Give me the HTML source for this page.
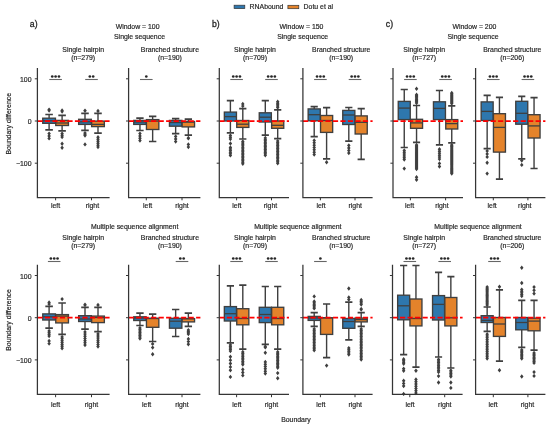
<!DOCTYPE html>
<html><head><meta charset="utf-8"><style>
html,body{margin:0;padding:0;background:#fff;width:550px;height:426px;overflow:hidden}
svg{display:block;will-change:transform}
text{font-family:"Liberation Sans",sans-serif;fill:#262626;stroke:#262626;stroke-width:0.18px}
</style></head><body>
<svg width="550" height="426" viewBox="0 0 550 426">
<rect width="550" height="426" fill="#fff"/>
<path d="M49.10 118.20V114.50M49.10 123.30V129.80" stroke="#3F3F3F" stroke-width="1.4" fill="none"/>
<path d="M45.33 114.50H52.87M45.33 129.80H52.87" stroke="#3F3F3F" stroke-width="1.7" fill="none"/>
<rect x="42.75" y="118.20" width="12.70" height="5.10" fill="#2E77AE" stroke="#3F3F3F" stroke-width="1.35"/>
<path d="M42.75 120.80H55.45" stroke="#3F3F3F" stroke-width="1.3"/>
<path d="M49.10 107.40L50.85 109.60L49.10 111.80L47.35 109.60ZM49.10 108.40L50.85 110.60L49.10 112.80L47.35 110.60ZM49.10 131.40L50.85 133.60L49.10 135.80L47.35 133.60ZM49.10 133.80L50.85 136.00L49.10 138.20L47.35 136.00ZM49.10 136.20L50.85 138.40L49.10 140.60L47.35 138.40Z" fill="#3F3F3F"/>
<path d="M62.10 120.40V115.30M62.10 125.50V130.80" stroke="#3F3F3F" stroke-width="1.4" fill="none"/>
<path d="M58.33 115.30H65.87M58.33 130.80H65.87" stroke="#3F3F3F" stroke-width="1.7" fill="none"/>
<rect x="55.75" y="120.40" width="12.70" height="5.10" fill="#E4832B" stroke="#3F3F3F" stroke-width="1.35"/>
<path d="M55.75 123.00H68.45" stroke="#3F3F3F" stroke-width="1.3"/>
<path d="M62.10 108.20L63.85 110.40L62.10 112.60L60.35 110.40ZM62.10 109.40L63.85 111.60L62.10 113.80L60.35 111.60ZM62.10 131.40L63.85 133.60L62.10 135.80L60.35 133.60ZM62.10 133.15L63.85 135.35L62.10 137.55L60.35 135.35ZM62.10 134.90L63.85 137.10L62.10 139.30L60.35 137.10ZM62.10 141.60L63.85 143.80L62.10 146.00L60.35 143.80ZM62.10 145.60L63.85 147.80L62.10 150.00L60.35 147.80Z" fill="#3F3F3F"/>
<path d="M85.00 119.30V113.40M85.00 124.40V130.30" stroke="#3F3F3F" stroke-width="1.4" fill="none"/>
<path d="M81.23 113.40H88.77M81.23 130.30H88.77" stroke="#3F3F3F" stroke-width="1.7" fill="none"/>
<rect x="78.65" y="119.30" width="12.70" height="5.10" fill="#2E77AE" stroke="#3F3F3F" stroke-width="1.35"/>
<path d="M78.65 121.80H91.35" stroke="#3F3F3F" stroke-width="1.3"/>
<path d="M85.00 108.60L86.75 110.80L85.00 113.00L83.25 110.80ZM85.00 108.40L86.75 110.60L85.00 112.80L83.25 110.60ZM85.00 130.90L86.75 133.10L85.00 135.30L83.25 133.10ZM85.00 132.10L86.75 134.30L85.00 136.50L83.25 134.30ZM85.00 133.30L86.75 135.50L85.00 137.70L83.25 135.50ZM85.00 142.20L86.75 144.40L85.00 146.60L83.25 144.40Z" fill="#3F3F3F"/>
<path d="M98.00 121.10V113.40M98.00 126.60V133.20" stroke="#3F3F3F" stroke-width="1.4" fill="none"/>
<path d="M94.23 113.40H101.77M94.23 133.20H101.77" stroke="#3F3F3F" stroke-width="1.7" fill="none"/>
<rect x="91.65" y="121.10" width="12.70" height="5.50" fill="#E4832B" stroke="#3F3F3F" stroke-width="1.35"/>
<path d="M91.65 124.40H104.35" stroke="#3F3F3F" stroke-width="1.3"/>
<path d="M98.00 108.90L99.75 111.10L98.00 113.30L96.25 111.10ZM98.00 108.70L99.75 110.90L98.00 113.10L96.25 110.90ZM98.00 135.10L99.75 137.30L98.00 139.50L96.25 137.30ZM98.00 137.06L99.75 139.26L98.00 141.46L96.25 139.26ZM98.00 139.02L99.75 141.22L98.00 143.42L96.25 141.22ZM98.00 140.98L99.75 143.18L98.00 145.38L96.25 143.18ZM98.00 142.94L99.75 145.14L98.00 147.34L96.25 145.14ZM98.00 144.90L99.75 147.10L98.00 149.30L96.25 147.10Z" fill="#3F3F3F"/>
<path d="M37.40 121.00H109.60" stroke="#FF0000" stroke-width="1.75" stroke-dasharray="5.2 2.3"/>
<path d="M37.40 68.00V197.50H109.60" stroke="#353535" stroke-width="1.25" fill="none"/>
<path d="M34.80 78.80H37.40M34.80 121.00H37.40M34.80 163.20H37.40M55.60 197.50V200.30M91.50 197.50V200.30" stroke="#353535" stroke-width="1.0" fill="none"/>
<text x="55.60" y="207.60" text-anchor="middle" font-size="6.9" >left</text>
<text x="92.40" y="207.60" text-anchor="middle" font-size="6.9" >right</text>
<text x="31.50" y="81.80" text-anchor="end" font-size="6.9" >100</text>
<text x="31.50" y="124.00" text-anchor="end" font-size="6.9" >0</text>
<text x="31.50" y="166.20" text-anchor="end" font-size="6.9" >−100</text>
<path d="M49.30 79.50H61.90" stroke="#666" stroke-width="1.1"/>
<g fill="#262626"><circle cx="52.25" cy="76.50" r="1.33"/><circle cx="55.60" cy="76.50" r="1.33"/><circle cx="58.95" cy="76.50" r="1.33"/></g>
<path d="M85.20 79.50H97.80" stroke="#666" stroke-width="1.1"/>
<g fill="#262626"><circle cx="89.83" cy="76.50" r="1.33"/><circle cx="93.17" cy="76.50" r="1.33"/></g>
<path d="M139.95 120.40V118.20M139.95 124.40V130.50" stroke="#3F3F3F" stroke-width="1.4" fill="none"/>
<path d="M136.27 118.20H143.63M136.27 130.50H143.63" stroke="#3F3F3F" stroke-width="1.7" fill="none"/>
<rect x="133.75" y="120.40" width="12.40" height="4.00" fill="#2E77AE" stroke="#3F3F3F" stroke-width="1.35"/>
<path d="M133.75 122.00H146.15" stroke="#3F3F3F" stroke-width="1.3"/>
<path d="M139.95 131.40L141.70 133.60L139.95 135.80L138.20 133.60ZM139.95 133.73L141.70 135.93L139.95 138.13L138.20 135.93ZM139.95 136.07L141.70 138.27L139.95 140.47L138.20 138.27ZM139.95 138.40L141.70 140.60L139.95 142.80L138.20 140.60Z" fill="#3F3F3F"/>
<path d="M152.65 119.60V116.30M152.65 129.50V141.50" stroke="#3F3F3F" stroke-width="1.4" fill="none"/>
<path d="M148.97 116.30H156.33M148.97 141.50H156.33" stroke="#3F3F3F" stroke-width="1.7" fill="none"/>
<rect x="146.45" y="119.60" width="12.40" height="9.90" fill="#E4832B" stroke="#3F3F3F" stroke-width="1.35"/>
<path d="M146.45 121.10H158.85" stroke="#3F3F3F" stroke-width="1.3"/>
<path d="M175.65 120.40V118.60M175.65 126.20V133.70" stroke="#3F3F3F" stroke-width="1.4" fill="none"/>
<path d="M171.97 118.60H179.33M171.97 133.70H179.33" stroke="#3F3F3F" stroke-width="1.7" fill="none"/>
<rect x="169.45" y="120.40" width="12.40" height="5.80" fill="#2E77AE" stroke="#3F3F3F" stroke-width="1.35"/>
<path d="M169.45 122.50H181.85" stroke="#3F3F3F" stroke-width="1.3"/>
<path d="M175.65 134.20L177.40 136.40L175.65 138.60L173.90 136.40ZM175.65 136.80L177.40 139.00L175.65 141.20L173.90 139.00ZM175.65 139.40L177.40 141.60L175.65 143.80L173.90 141.60Z" fill="#3F3F3F"/>
<path d="M188.35 121.50V119.20M188.35 126.90V135.20" stroke="#3F3F3F" stroke-width="1.4" fill="none"/>
<path d="M184.67 119.20H192.03M184.67 135.20H192.03" stroke="#3F3F3F" stroke-width="1.7" fill="none"/>
<rect x="182.15" y="121.50" width="12.40" height="5.40" fill="#E4832B" stroke="#3F3F3F" stroke-width="1.35"/>
<path d="M182.15 122.10H194.55" stroke="#3F3F3F" stroke-width="1.3"/>
<path d="M188.35 135.70L190.10 137.90L188.35 140.10L186.60 137.90ZM188.35 136.20L190.10 138.40L188.35 140.60L186.60 138.40ZM188.35 142.30L190.10 144.50L188.35 146.70L186.60 144.50ZM188.35 144.90L190.10 147.10L188.35 149.30L186.60 147.10Z" fill="#3F3F3F"/>
<path d="M128.60 121.00H200.40" stroke="#FF0000" stroke-width="1.75" stroke-dasharray="5.2 2.3"/>
<path d="M128.60 68.00V197.50H200.40" stroke="#353535" stroke-width="1.25" fill="none"/>
<path d="M126.00 78.80H128.60M126.00 121.00H128.60M126.00 163.20H128.60M146.30 197.50V200.30M182.00 197.50V200.30" stroke="#353535" stroke-width="1.0" fill="none"/>
<text x="147.70" y="207.60" text-anchor="middle" font-size="6.9" >left</text>
<text x="182.00" y="207.60" text-anchor="middle" font-size="6.9" >right</text>
<path d="M140.00 79.50H152.60" stroke="#666" stroke-width="1.1"/>
<g fill="#262626"><circle cx="146.30" cy="76.50" r="1.33"/></g>
<path d="M230.40 112.10V100.60M230.40 121.00V132.90" stroke="#3F3F3F" stroke-width="1.4" fill="none"/>
<path d="M226.80 100.60H234.00M226.80 132.90H234.00" stroke="#3F3F3F" stroke-width="1.7" fill="none"/>
<rect x="224.35" y="112.10" width="12.10" height="8.90" fill="#2E77AE" stroke="#3F3F3F" stroke-width="1.35"/>
<path d="M224.35 116.60H236.45" stroke="#3F3F3F" stroke-width="1.3"/>
<path d="M230.40 133.20L232.15 135.40L230.40 137.60L228.65 135.40ZM230.40 135.05L232.15 137.25L230.40 139.45L228.65 137.25ZM230.40 136.90L232.15 139.10L230.40 141.30L228.65 139.10ZM230.40 141.30L232.15 143.50L230.40 145.70L228.65 143.50ZM230.40 145.20L232.15 147.40L230.40 149.60L228.65 147.40ZM230.40 146.80L232.15 149.00L230.40 151.20L228.65 149.00ZM230.40 148.40L232.15 150.60L230.40 152.80L228.65 150.60ZM230.40 150.00L232.15 152.20L230.40 154.40L228.65 152.20ZM230.40 151.60L232.15 153.80L230.40 156.00L228.65 153.80ZM230.40 153.20L232.15 155.40L230.40 157.60L228.65 155.40Z" fill="#3F3F3F"/>
<path d="M242.80 120.50V108.60M242.80 127.40V139.00" stroke="#3F3F3F" stroke-width="1.4" fill="none"/>
<path d="M239.20 108.60H246.40M239.20 139.00H246.40" stroke="#3F3F3F" stroke-width="1.7" fill="none"/>
<rect x="236.75" y="120.50" width="12.10" height="6.90" fill="#E4832B" stroke="#3F3F3F" stroke-width="1.35"/>
<path d="M236.75 124.20H248.85" stroke="#3F3F3F" stroke-width="1.3"/>
<path d="M242.80 101.70L244.55 103.90L242.80 106.10L241.05 103.90ZM242.80 103.90L244.55 106.10L242.80 108.30L241.05 106.10ZM242.80 139.20L244.55 141.40L242.80 143.60L241.05 141.40ZM242.80 140.69L244.55 142.89L242.80 145.09L241.05 142.89ZM242.80 142.17L244.55 144.37L242.80 146.57L241.05 144.37ZM242.80 143.66L244.55 145.86L242.80 148.06L241.05 145.86ZM242.80 145.15L244.55 147.35L242.80 149.55L241.05 147.35ZM242.80 146.63L244.55 148.83L242.80 151.03L241.05 148.83ZM242.80 148.12L244.55 150.32L242.80 152.52L241.05 150.32ZM242.80 149.61L244.55 151.81L242.80 154.01L241.05 151.81ZM242.80 151.09L244.55 153.29L242.80 155.49L241.05 153.29ZM242.80 152.58L244.55 154.78L242.80 156.98L241.05 154.78ZM242.80 154.07L244.55 156.27L242.80 158.47L241.05 156.27ZM242.80 155.55L244.55 157.75L242.80 159.95L241.05 157.75ZM242.80 157.04L244.55 159.24L242.80 161.44L241.05 159.24ZM242.80 158.53L244.55 160.73L242.80 162.93L241.05 160.73ZM242.80 160.01L244.55 162.21L242.80 164.41L241.05 162.21ZM242.80 161.50L244.55 163.70L242.80 165.90L241.05 163.70Z" fill="#3F3F3F"/>
<path d="M265.30 112.80V100.60M265.30 122.00V135.10" stroke="#3F3F3F" stroke-width="1.4" fill="none"/>
<path d="M261.70 100.60H268.90M261.70 135.10H268.90" stroke="#3F3F3F" stroke-width="1.7" fill="none"/>
<rect x="259.25" y="112.80" width="12.10" height="9.20" fill="#2E77AE" stroke="#3F3F3F" stroke-width="1.35"/>
<path d="M259.25 117.20H271.35" stroke="#3F3F3F" stroke-width="1.3"/>
<path d="M265.30 135.70L267.05 137.90L265.30 140.10L263.55 137.90ZM265.30 137.15L267.05 139.35L265.30 141.55L263.55 139.35ZM265.30 138.60L267.05 140.80L265.30 143.00L263.55 140.80ZM265.30 140.05L267.05 142.25L265.30 144.45L263.55 142.25ZM265.30 141.50L267.05 143.70L265.30 145.90L263.55 143.70ZM265.30 142.95L267.05 145.15L265.30 147.35L263.55 145.15ZM265.30 144.40L267.05 146.60L265.30 148.80L263.55 146.60ZM265.30 145.85L267.05 148.05L265.30 150.25L263.55 148.05ZM265.30 147.30L267.05 149.50L265.30 151.70L263.55 149.50ZM265.30 148.75L267.05 150.95L265.30 153.15L263.55 150.95ZM265.30 150.20L267.05 152.40L265.30 154.60L263.55 152.40ZM265.30 151.65L267.05 153.85L265.30 156.05L263.55 153.85ZM265.30 153.10L267.05 155.30L265.30 157.50L263.55 155.30Z" fill="#3F3F3F"/>
<path d="M277.70 121.00V109.90M277.70 128.30V138.70" stroke="#3F3F3F" stroke-width="1.4" fill="none"/>
<path d="M274.10 109.90H281.30M274.10 138.70H281.30" stroke="#3F3F3F" stroke-width="1.7" fill="none"/>
<rect x="271.65" y="121.00" width="12.10" height="7.30" fill="#E4832B" stroke="#3F3F3F" stroke-width="1.35"/>
<path d="M271.65 125.30H283.75" stroke="#3F3F3F" stroke-width="1.3"/>
<path d="M277.70 99.60L279.45 101.80L277.70 104.00L275.95 101.80ZM277.70 101.03L279.45 103.23L277.70 105.43L275.95 103.23ZM277.70 102.45L279.45 104.65L277.70 106.85L275.95 104.65ZM277.70 103.88L279.45 106.08L277.70 108.28L275.95 106.08ZM277.70 105.30L279.45 107.50L277.70 109.70L275.95 107.50ZM277.70 138.90L279.45 141.10L277.70 143.30L275.95 141.10ZM277.70 140.38L279.45 142.58L277.70 144.78L275.95 142.58ZM277.70 141.86L279.45 144.06L277.70 146.26L275.95 144.06ZM277.70 143.34L279.45 145.54L277.70 147.74L275.95 145.54ZM277.70 144.82L279.45 147.02L277.70 149.22L275.95 147.02ZM277.70 146.30L279.45 148.50L277.70 150.70L275.95 148.50ZM277.70 147.78L279.45 149.98L277.70 152.18L275.95 149.98ZM277.70 149.26L279.45 151.46L277.70 153.66L275.95 151.46ZM277.70 150.74L279.45 152.94L277.70 155.14L275.95 152.94ZM277.70 152.22L279.45 154.42L277.70 156.62L275.95 154.42ZM277.70 153.70L279.45 155.90L277.70 158.10L275.95 155.90ZM277.70 155.18L279.45 157.38L277.70 159.58L275.95 157.38ZM277.70 156.66L279.45 158.86L277.70 161.06L275.95 158.86ZM277.70 158.14L279.45 160.34L277.70 162.54L275.95 160.34ZM277.70 159.62L279.45 161.82L277.70 164.02L275.95 161.82ZM277.70 161.10L279.45 163.30L277.70 165.50L275.95 163.30Z" fill="#3F3F3F"/>
<path d="M219.30 121.00H289.00" stroke="#FF0000" stroke-width="1.75" stroke-dasharray="5.2 2.3"/>
<path d="M219.30 68.00V197.50H289.00" stroke="#353535" stroke-width="1.25" fill="none"/>
<path d="M216.70 78.80H219.30M216.70 121.00H219.30M216.70 163.20H219.30M236.60 197.50V200.30M271.50 197.50V200.30" stroke="#353535" stroke-width="1.0" fill="none"/>
<text x="236.90" y="207.60" text-anchor="middle" font-size="6.9" >left</text>
<text x="270.50" y="207.60" text-anchor="middle" font-size="6.9" >right</text>
<path d="M230.30 79.50H242.90" stroke="#666" stroke-width="1.1"/>
<g fill="#262626"><circle cx="233.25" cy="76.50" r="1.33"/><circle cx="236.60" cy="76.50" r="1.33"/><circle cx="239.95" cy="76.50" r="1.33"/></g>
<path d="M265.20 79.50H277.80" stroke="#666" stroke-width="1.1"/>
<g fill="#262626"><circle cx="268.15" cy="76.50" r="1.33"/><circle cx="271.50" cy="76.50" r="1.33"/><circle cx="274.85" cy="76.50" r="1.33"/></g>
<path d="M314.20 108.90V106.70M314.20 120.80V136.60" stroke="#3F3F3F" stroke-width="1.4" fill="none"/>
<path d="M310.60 106.70H317.80M310.60 136.60H317.80" stroke="#3F3F3F" stroke-width="1.7" fill="none"/>
<rect x="308.15" y="108.90" width="12.10" height="11.90" fill="#2E77AE" stroke="#3F3F3F" stroke-width="1.35"/>
<path d="M308.15 114.70H320.25" stroke="#3F3F3F" stroke-width="1.3"/>
<path d="M314.20 138.20L315.95 140.40L314.20 142.60L312.45 140.40ZM314.20 140.57L315.95 142.77L314.20 144.97L312.45 142.77ZM314.20 142.93L315.95 145.13L314.20 147.33L312.45 145.13ZM314.20 145.30L315.95 147.50L314.20 149.70L312.45 147.50ZM314.20 147.67L315.95 149.87L314.20 152.07L312.45 149.87ZM314.20 150.03L315.95 152.23L314.20 154.43L312.45 152.23ZM314.20 152.40L315.95 154.60L314.20 156.80L312.45 154.60Z" fill="#3F3F3F"/>
<path d="M326.60 115.50V107.70M326.60 132.40V158.80" stroke="#3F3F3F" stroke-width="1.4" fill="none"/>
<path d="M323.00 107.70H330.20M323.00 158.80H330.20" stroke="#3F3F3F" stroke-width="1.7" fill="none"/>
<rect x="320.55" y="115.50" width="12.10" height="16.90" fill="#E4832B" stroke="#3F3F3F" stroke-width="1.35"/>
<path d="M320.55 120.50H332.65" stroke="#3F3F3F" stroke-width="1.3"/>
<path d="M326.60 160.10L328.35 162.30L326.60 164.50L324.85 162.30Z" fill="#3F3F3F"/>
<path d="M348.80 110.40V107.50M348.80 124.50V141.20" stroke="#3F3F3F" stroke-width="1.4" fill="none"/>
<path d="M345.20 107.50H352.40M345.20 141.20H352.40" stroke="#3F3F3F" stroke-width="1.7" fill="none"/>
<rect x="342.75" y="110.40" width="12.10" height="14.10" fill="#2E77AE" stroke="#3F3F3F" stroke-width="1.35"/>
<path d="M342.75 115.00H354.85" stroke="#3F3F3F" stroke-width="1.3"/>
<path d="M348.80 143.20L350.55 145.40L348.80 147.60L347.05 145.40ZM348.80 145.77L350.55 147.97L348.80 150.17L347.05 147.97ZM348.80 148.33L350.55 150.53L348.80 152.73L347.05 150.53ZM348.80 150.90L350.55 153.10L348.80 155.30L347.05 153.10Z" fill="#3F3F3F"/>
<path d="M361.20 115.90V108.60M361.20 134.00V159.40" stroke="#3F3F3F" stroke-width="1.4" fill="none"/>
<path d="M357.60 108.60H364.80M357.60 159.40H364.80" stroke="#3F3F3F" stroke-width="1.7" fill="none"/>
<rect x="355.15" y="115.90" width="12.10" height="18.10" fill="#E4832B" stroke="#3F3F3F" stroke-width="1.35"/>
<path d="M355.15 122.30H367.25" stroke="#3F3F3F" stroke-width="1.3"/>
<path d="M302.90 121.00H372.60" stroke="#FF0000" stroke-width="1.75" stroke-dasharray="5.2 2.3"/>
<path d="M302.90 68.00V197.50H372.60" stroke="#353535" stroke-width="1.25" fill="none"/>
<path d="M300.30 78.80H302.90M300.30 121.00H302.90M300.30 163.20H302.90M320.40 197.50V200.30M355.00 197.50V200.30" stroke="#353535" stroke-width="1.0" fill="none"/>
<text x="321.10" y="207.60" text-anchor="middle" font-size="6.9" >left</text>
<text x="355.20" y="207.60" text-anchor="middle" font-size="6.9" >right</text>
<path d="M314.10 79.50H326.70" stroke="#666" stroke-width="1.1"/>
<g fill="#262626"><circle cx="317.05" cy="76.50" r="1.33"/><circle cx="320.40" cy="76.50" r="1.33"/><circle cx="323.75" cy="76.50" r="1.33"/></g>
<path d="M348.70 79.50H361.30" stroke="#666" stroke-width="1.1"/>
<g fill="#262626"><circle cx="351.65" cy="76.50" r="1.33"/><circle cx="355.00" cy="76.50" r="1.33"/><circle cx="358.35" cy="76.50" r="1.33"/></g>
<path d="M404.25 101.40V89.50M404.25 119.60V147.50" stroke="#3F3F3F" stroke-width="1.4" fill="none"/>
<path d="M400.68 89.50H407.82M400.68 147.50H407.82" stroke="#3F3F3F" stroke-width="1.7" fill="none"/>
<rect x="398.25" y="101.40" width="12.00" height="18.20" fill="#2E77AE" stroke="#3F3F3F" stroke-width="1.35"/>
<path d="M398.25 108.10H410.25" stroke="#3F3F3F" stroke-width="1.3"/>
<path d="M404.25 148.30L406.00 150.50L404.25 152.70L402.50 150.50ZM404.25 150.10L406.00 152.30L404.25 154.50L402.50 152.30ZM404.25 151.90L406.00 154.10L404.25 156.30L402.50 154.10ZM404.25 153.70L406.00 155.90L404.25 158.10L402.50 155.90ZM404.25 155.50L406.00 157.70L404.25 159.90L402.50 157.70ZM404.25 157.30L406.00 159.50L404.25 161.70L402.50 159.50ZM404.25 166.40L406.00 168.60L404.25 170.80L402.50 168.60Z" fill="#3F3F3F"/>
<path d="M416.55 119.30V105.50M416.55 128.30V142.40" stroke="#3F3F3F" stroke-width="1.4" fill="none"/>
<path d="M412.98 105.50H420.12M412.98 142.40H420.12" stroke="#3F3F3F" stroke-width="1.7" fill="none"/>
<rect x="410.55" y="119.30" width="12.00" height="9.00" fill="#E4832B" stroke="#3F3F3F" stroke-width="1.35"/>
<path d="M410.55 122.90H422.55" stroke="#3F3F3F" stroke-width="1.3"/>
<path d="M416.55 86.50L418.30 88.70L416.55 90.90L414.80 88.70ZM416.55 92.50L418.30 94.70L416.55 96.90L414.80 94.70ZM416.55 93.55L418.30 95.75L416.55 97.95L414.80 95.75ZM416.55 94.60L418.30 96.80L416.55 99.00L414.80 96.80ZM416.55 95.65L418.30 97.85L416.55 100.05L414.80 97.85ZM416.55 96.70L418.30 98.90L416.55 101.10L414.80 98.90ZM416.55 97.75L418.30 99.95L416.55 102.15L414.80 99.95ZM416.55 98.80L418.30 101.00L416.55 103.20L414.80 101.00ZM416.55 99.85L418.30 102.05L416.55 104.25L414.80 102.05ZM416.55 100.90L418.30 103.10L416.55 105.30L414.80 103.10ZM416.55 142.70L418.30 144.90L416.55 147.10L414.80 144.90ZM416.55 143.70L418.30 145.90L416.55 148.10L414.80 145.90ZM416.55 144.71L418.30 146.91L416.55 149.11L414.80 146.91ZM416.55 145.71L418.30 147.91L416.55 150.11L414.80 147.91ZM416.55 146.72L418.30 148.92L416.55 151.12L414.80 148.92ZM416.55 147.72L418.30 149.92L416.55 152.12L414.80 149.92ZM416.55 148.73L418.30 150.93L416.55 153.12L414.80 150.93ZM416.55 149.73L418.30 151.93L416.55 154.13L414.80 151.93ZM416.55 150.73L418.30 152.93L416.55 155.13L414.80 152.93ZM416.55 151.74L418.30 153.94L416.55 156.14L414.80 153.94ZM416.55 152.74L418.30 154.94L416.55 157.14L414.80 154.94ZM416.55 153.75L418.30 155.95L416.55 158.15L414.80 155.95ZM416.55 154.75L418.30 156.95L416.55 159.15L414.80 156.95ZM416.55 155.75L418.30 157.95L416.55 160.15L414.80 157.95ZM416.55 156.76L418.30 158.96L416.55 161.16L414.80 158.96ZM416.55 157.76L418.30 159.96L416.55 162.16L414.80 159.96ZM416.55 158.77L418.30 160.97L416.55 163.17L414.80 160.97ZM416.55 159.77L418.30 161.97L416.55 164.17L414.80 161.97ZM416.55 160.78L418.30 162.97L416.55 165.17L414.80 162.97ZM416.55 161.78L418.30 163.98L416.55 166.18L414.80 163.98ZM416.55 162.78L418.30 164.98L416.55 167.18L414.80 164.98ZM416.55 163.79L418.30 165.99L416.55 168.19L414.80 165.99ZM416.55 164.79L418.30 166.99L416.55 169.19L414.80 166.99ZM416.55 165.80L418.30 168.00L416.55 170.20L414.80 168.00ZM416.55 166.80L418.30 169.00L416.55 171.20L414.80 169.00ZM416.55 175.00L418.30 177.20L416.55 179.40L414.80 177.20ZM416.55 177.60L418.30 179.80L416.55 182.00L414.80 179.80Z" fill="#3F3F3F"/>
<path d="M439.45 101.80V90.50M439.45 119.60V144.80" stroke="#3F3F3F" stroke-width="1.4" fill="none"/>
<path d="M435.88 90.50H443.02M435.88 144.80H443.02" stroke="#3F3F3F" stroke-width="1.7" fill="none"/>
<rect x="433.45" y="101.80" width="12.00" height="17.80" fill="#2E77AE" stroke="#3F3F3F" stroke-width="1.35"/>
<path d="M433.45 108.40H445.45" stroke="#3F3F3F" stroke-width="1.3"/>
<path d="M439.45 147.00L441.20 149.20L439.45 151.40L437.70 149.20ZM439.45 148.98L441.20 151.18L439.45 153.38L437.70 151.18ZM439.45 150.96L441.20 153.16L439.45 155.36L437.70 153.16ZM439.45 152.94L441.20 155.14L439.45 157.34L437.70 155.14ZM439.45 154.92L441.20 157.12L439.45 159.32L437.70 157.12ZM439.45 156.90L441.20 159.10L439.45 161.30L437.70 159.10ZM439.45 161.20L441.20 163.40L439.45 165.60L437.70 163.40ZM439.45 164.30L441.20 166.50L439.45 168.70L437.70 166.50Z" fill="#3F3F3F"/>
<path d="M451.75 119.60V105.90M451.75 129.00V142.80" stroke="#3F3F3F" stroke-width="1.4" fill="none"/>
<path d="M448.18 105.90H455.32M448.18 142.80H455.32" stroke="#3F3F3F" stroke-width="1.7" fill="none"/>
<rect x="445.75" y="119.60" width="12.00" height="9.40" fill="#E4832B" stroke="#3F3F3F" stroke-width="1.35"/>
<path d="M445.75 123.60H457.75" stroke="#3F3F3F" stroke-width="1.3"/>
<path d="M451.75 90.70L453.50 92.90L451.75 95.10L450.00 92.90ZM451.75 91.67L453.50 93.87L451.75 96.07L450.00 93.87ZM451.75 92.65L453.50 94.85L451.75 97.05L450.00 94.85ZM451.75 93.62L453.50 95.82L451.75 98.02L450.00 95.82ZM451.75 94.59L453.50 96.79L451.75 98.99L450.00 96.79ZM451.75 95.56L453.50 97.76L451.75 99.96L450.00 97.76ZM451.75 96.54L453.50 98.74L451.75 100.94L450.00 98.74ZM451.75 97.51L453.50 99.71L451.75 101.91L450.00 99.71ZM451.75 98.48L453.50 100.68L451.75 102.88L450.00 100.68ZM451.75 99.45L453.50 101.65L451.75 103.85L450.00 101.65ZM451.75 100.43L453.50 102.63L451.75 104.83L450.00 102.63ZM451.75 101.40L453.50 103.60L451.75 105.80L450.00 103.60ZM451.75 142.70L453.50 144.90L451.75 147.10L450.00 144.90ZM451.75 143.69L453.50 145.89L451.75 148.09L450.00 145.89ZM451.75 144.67L453.50 146.87L451.75 149.07L450.00 146.87ZM451.75 145.66L453.50 147.86L451.75 150.06L450.00 147.86ZM451.75 146.64L453.50 148.84L451.75 151.04L450.00 148.84ZM451.75 147.63L453.50 149.83L451.75 152.03L450.00 149.83ZM451.75 148.62L453.50 150.82L451.75 153.02L450.00 150.82ZM451.75 149.60L453.50 151.80L451.75 154.00L450.00 151.80ZM451.75 150.59L453.50 152.79L451.75 154.99L450.00 152.79ZM451.75 151.58L453.50 153.78L451.75 155.98L450.00 153.78ZM451.75 152.56L453.50 154.76L451.75 156.96L450.00 154.76ZM451.75 153.55L453.50 155.75L451.75 157.95L450.00 155.75ZM451.75 154.53L453.50 156.73L451.75 158.93L450.00 156.73ZM451.75 155.52L453.50 157.72L451.75 159.92L450.00 157.72ZM451.75 156.51L453.50 158.71L451.75 160.91L450.00 158.71ZM451.75 157.49L453.50 159.69L451.75 161.89L450.00 159.69ZM451.75 158.48L453.50 160.68L451.75 162.88L450.00 160.68ZM451.75 159.47L453.50 161.67L451.75 163.87L450.00 161.67ZM451.75 160.45L453.50 162.65L451.75 164.85L450.00 162.65ZM451.75 161.44L453.50 163.64L451.75 165.84L450.00 163.64ZM451.75 162.42L453.50 164.62L451.75 166.82L450.00 164.62ZM451.75 163.41L453.50 165.61L451.75 167.81L450.00 165.61ZM451.75 164.40L453.50 166.60L451.75 168.80L450.00 166.60ZM451.75 165.38L453.50 167.58L451.75 169.78L450.00 167.58ZM451.75 166.37L453.50 168.57L451.75 170.77L450.00 168.57ZM451.75 167.36L453.50 169.56L451.75 171.76L450.00 169.56ZM451.75 168.34L453.50 170.54L451.75 172.74L450.00 170.54ZM451.75 169.33L453.50 171.53L451.75 173.73L450.00 171.53ZM451.75 170.31L453.50 172.51L451.75 174.71L450.00 172.51ZM451.75 171.30L453.50 173.50L451.75 175.70L450.00 173.50Z" fill="#3F3F3F"/>
<path d="M393.00 121.00H463.00" stroke="#FF0000" stroke-width="1.75" stroke-dasharray="5.2 2.3"/>
<path d="M393.00 68.00V197.50H463.00" stroke="#353535" stroke-width="1.25" fill="none"/>
<path d="M390.40 78.80H393.00M390.40 121.00H393.00M390.40 163.20H393.00M410.40 197.50V200.30M445.60 197.50V200.30" stroke="#353535" stroke-width="1.0" fill="none"/>
<text x="409.60" y="207.60" text-anchor="middle" font-size="6.9" >left</text>
<text x="441.90" y="207.60" text-anchor="middle" font-size="6.9" >right</text>
<path d="M404.10 79.50H416.70" stroke="#666" stroke-width="1.1"/>
<g fill="#262626"><circle cx="407.05" cy="76.50" r="1.33"/><circle cx="410.40" cy="76.50" r="1.33"/><circle cx="413.75" cy="76.50" r="1.33"/></g>
<path d="M439.30 79.50H451.90" stroke="#666" stroke-width="1.1"/>
<g fill="#262626"><circle cx="442.25" cy="76.50" r="1.33"/><circle cx="445.60" cy="76.50" r="1.33"/><circle cx="448.95" cy="76.50" r="1.33"/></g>
<path d="M487.15 101.90V95.40M487.15 120.50V148.60" stroke="#3F3F3F" stroke-width="1.4" fill="none"/>
<path d="M483.58 95.40H490.72M483.58 148.60H490.72" stroke="#3F3F3F" stroke-width="1.7" fill="none"/>
<rect x="481.15" y="101.90" width="12.00" height="18.60" fill="#2E77AE" stroke="#3F3F3F" stroke-width="1.35"/>
<path d="M481.15 111.40H493.15" stroke="#3F3F3F" stroke-width="1.3"/>
<path d="M487.15 148.70L488.90 150.90L487.15 153.10L485.40 150.90ZM487.15 151.70L488.90 153.90L487.15 156.10L485.40 153.90ZM487.15 154.70L488.90 156.90L487.15 159.10L485.40 156.90ZM487.15 160.50L488.90 162.70L487.15 164.90L485.40 162.70ZM487.15 171.40L488.90 173.60L487.15 175.80L485.40 173.60Z" fill="#3F3F3F"/>
<path d="M499.45 113.70V97.30M499.45 152.10V179.20" stroke="#3F3F3F" stroke-width="1.4" fill="none"/>
<path d="M495.88 97.30H503.02M495.88 179.20H503.02" stroke="#3F3F3F" stroke-width="1.7" fill="none"/>
<rect x="493.45" y="113.70" width="12.00" height="38.40" fill="#E4832B" stroke="#3F3F3F" stroke-width="1.35"/>
<path d="M493.45 127.40H505.45" stroke="#3F3F3F" stroke-width="1.3"/>
<path d="M521.75 101.30V96.30M521.75 124.20V158.80" stroke="#3F3F3F" stroke-width="1.4" fill="none"/>
<path d="M518.18 96.30H525.32M518.18 158.80H525.32" stroke="#3F3F3F" stroke-width="1.7" fill="none"/>
<rect x="515.75" y="101.30" width="12.00" height="22.90" fill="#2E77AE" stroke="#3F3F3F" stroke-width="1.35"/>
<path d="M515.75 113.30H527.75" stroke="#3F3F3F" stroke-width="1.3"/>
<path d="M521.75 158.30L523.50 160.50L521.75 162.70L520.00 160.50ZM521.75 162.70L523.50 164.90L521.75 167.10L520.00 164.90Z" fill="#3F3F3F"/>
<path d="M534.05 114.70V97.70M534.05 138.00V168.50" stroke="#3F3F3F" stroke-width="1.4" fill="none"/>
<path d="M530.48 97.70H537.62M530.48 168.50H537.62" stroke="#3F3F3F" stroke-width="1.7" fill="none"/>
<rect x="528.05" y="114.70" width="12.00" height="23.30" fill="#E4832B" stroke="#3F3F3F" stroke-width="1.35"/>
<path d="M528.05 125.90H540.05" stroke="#3F3F3F" stroke-width="1.3"/>
<path d="M475.60 121.00H545.40" stroke="#FF0000" stroke-width="1.75" stroke-dasharray="5.2 2.3"/>
<path d="M475.60 68.00V197.50H545.40" stroke="#353535" stroke-width="1.25" fill="none"/>
<path d="M473.00 78.80H475.60M473.00 121.00H475.60M473.00 163.20H475.60M493.30 197.50V200.30M527.90 197.50V200.30" stroke="#353535" stroke-width="1.0" fill="none"/>
<text x="492.20" y="207.60" text-anchor="middle" font-size="6.9" >left</text>
<text x="524.80" y="207.60" text-anchor="middle" font-size="6.9" >right</text>
<path d="M487.00 79.50H499.60" stroke="#666" stroke-width="1.1"/>
<g fill="#262626"><circle cx="489.95" cy="76.50" r="1.33"/><circle cx="493.30" cy="76.50" r="1.33"/><circle cx="496.65" cy="76.50" r="1.33"/></g>
<path d="M521.60 79.50H534.20" stroke="#666" stroke-width="1.1"/>
<g fill="#262626"><circle cx="524.55" cy="76.50" r="1.33"/><circle cx="527.90" cy="76.50" r="1.33"/><circle cx="531.25" cy="76.50" r="1.33"/></g>
<text x="83.20" y="51.80" text-anchor="middle" font-size="6.9" >Single hairpin</text>
<text x="83.20" y="60.20" text-anchor="middle" font-size="6.9" >(n=279)</text>
<text x="169.90" y="51.80" text-anchor="middle" font-size="6.9" >Branched structure</text>
<text x="169.90" y="60.20" text-anchor="middle" font-size="6.9" >(n=190)</text>
<text x="255.00" y="51.80" text-anchor="middle" font-size="6.9" >Single hairpin</text>
<text x="255.00" y="60.20" text-anchor="middle" font-size="6.9" >(n=709)</text>
<text x="341.20" y="51.80" text-anchor="middle" font-size="6.9" >Branched structure</text>
<text x="341.20" y="60.20" text-anchor="middle" font-size="6.9" >(n=190)</text>
<text x="424.20" y="51.80" text-anchor="middle" font-size="6.9" >Single hairpin</text>
<text x="424.20" y="60.20" text-anchor="middle" font-size="6.9" >(n=727)</text>
<text x="512.30" y="51.80" text-anchor="middle" font-size="6.9" >Branched structure</text>
<text x="512.30" y="60.20" text-anchor="middle" font-size="6.9" >(n=206)</text>
<text transform="translate(10.6 123.70) rotate(-90)" text-anchor="middle" font-size="6.9">Boundary difference</text>
<path d="M49.10 313.90V306.30M49.10 320.00V328.20" stroke="#3F3F3F" stroke-width="1.4" fill="none"/>
<path d="M45.33 306.30H52.87M45.33 328.20H52.87" stroke="#3F3F3F" stroke-width="1.7" fill="none"/>
<rect x="42.75" y="313.90" width="12.70" height="6.10" fill="#2E77AE" stroke="#3F3F3F" stroke-width="1.35"/>
<path d="M42.75 316.80H55.45" stroke="#3F3F3F" stroke-width="1.3"/>
<path d="M49.10 300.20L50.85 302.40L49.10 304.60L47.35 302.40ZM49.10 301.90L50.85 304.10L49.10 306.30L47.35 304.10ZM49.10 328.70L50.85 330.90L49.10 333.10L47.35 330.90ZM49.10 330.43L50.85 332.63L49.10 334.83L47.35 332.63ZM49.10 332.17L50.85 334.37L49.10 336.57L47.35 334.37ZM49.10 333.90L50.85 336.10L49.10 338.30L47.35 336.10ZM49.10 338.70L50.85 340.90L49.10 343.10L47.35 340.90ZM49.10 341.40L50.85 343.60L49.10 345.80L47.35 343.60Z" fill="#3F3F3F"/>
<path d="M62.10 314.60V303.00M62.10 322.90V334.30" stroke="#3F3F3F" stroke-width="1.4" fill="none"/>
<path d="M58.33 303.00H65.87M58.33 334.30H65.87" stroke="#3F3F3F" stroke-width="1.7" fill="none"/>
<rect x="55.75" y="314.60" width="12.70" height="8.30" fill="#E4832B" stroke="#3F3F3F" stroke-width="1.35"/>
<path d="M55.75 316.10H68.45" stroke="#3F3F3F" stroke-width="1.3"/>
<path d="M62.10 296.90L63.85 299.10L62.10 301.30L60.35 299.10ZM62.10 334.70L63.85 336.90L62.10 339.10L60.35 336.90ZM62.10 336.58L63.85 338.78L62.10 340.98L60.35 338.78ZM62.10 338.47L63.85 340.67L62.10 342.87L60.35 340.67ZM62.10 340.35L63.85 342.55L62.10 344.75L60.35 342.55ZM62.10 342.23L63.85 344.43L62.10 346.63L60.35 344.43ZM62.10 344.12L63.85 346.32L62.10 348.52L60.35 346.32ZM62.10 346.00L63.85 348.20L62.10 350.40L60.35 348.20Z" fill="#3F3F3F"/>
<path d="M85.00 315.70V307.40M85.00 321.50V329.20" stroke="#3F3F3F" stroke-width="1.4" fill="none"/>
<path d="M81.23 307.40H88.77M81.23 329.20H88.77" stroke="#3F3F3F" stroke-width="1.7" fill="none"/>
<rect x="78.65" y="315.70" width="12.70" height="5.80" fill="#2E77AE" stroke="#3F3F3F" stroke-width="1.35"/>
<path d="M78.65 319.00H91.35" stroke="#3F3F3F" stroke-width="1.3"/>
<path d="M85.00 302.40L86.75 304.60L85.00 306.80L83.25 304.60ZM85.00 302.90L86.75 305.10L85.00 307.30L83.25 305.10ZM85.00 329.70L86.75 331.90L85.00 334.10L83.25 331.90ZM85.00 331.88L86.75 334.08L85.00 336.28L83.25 334.08ZM85.00 334.07L86.75 336.27L85.00 338.47L83.25 336.27ZM85.00 336.25L86.75 338.45L85.00 340.65L83.25 338.45ZM85.00 338.43L86.75 340.63L85.00 342.83L83.25 340.63ZM85.00 340.62L86.75 342.82L85.00 345.02L83.25 342.82ZM85.00 342.80L86.75 345.00L85.00 347.20L83.25 345.00Z" fill="#3F3F3F"/>
<path d="M98.00 316.10V307.40M98.00 322.60V331.70" stroke="#3F3F3F" stroke-width="1.4" fill="none"/>
<path d="M94.23 307.40H101.77M94.23 331.70H101.77" stroke="#3F3F3F" stroke-width="1.7" fill="none"/>
<rect x="91.65" y="316.10" width="12.70" height="6.50" fill="#E4832B" stroke="#3F3F3F" stroke-width="1.35"/>
<path d="M91.65 317.50H104.35" stroke="#3F3F3F" stroke-width="1.3"/>
<path d="M98.00 302.70L99.75 304.90L98.00 307.10L96.25 304.90ZM98.00 302.90L99.75 305.10L98.00 307.30L96.25 305.10ZM98.00 331.70L99.75 333.90L98.00 336.10L96.25 333.90ZM98.00 333.80L99.75 336.00L98.00 338.20L96.25 336.00ZM98.00 335.90L99.75 338.10L98.00 340.30L96.25 338.10ZM98.00 338.00L99.75 340.20L98.00 342.40L96.25 340.20ZM98.00 340.10L99.75 342.30L98.00 344.50L96.25 342.30ZM98.00 342.20L99.75 344.40L98.00 346.60L96.25 344.40ZM98.00 344.30L99.75 346.50L98.00 348.70L96.25 346.50Z" fill="#3F3F3F"/>
<path d="M37.40 317.70H109.60" stroke="#FF0000" stroke-width="1.75" stroke-dasharray="5.2 2.3"/>
<path d="M37.40 264.70V394.40H109.60" stroke="#353535" stroke-width="1.25" fill="none"/>
<path d="M34.80 275.50H37.40M34.80 317.70H37.40M34.80 359.90H37.40M55.60 394.40V397.20M91.50 394.40V397.20" stroke="#353535" stroke-width="1.0" fill="none"/>
<text x="55.50" y="407.20" text-anchor="middle" font-size="6.9" >left</text>
<text x="91.50" y="407.20" text-anchor="middle" font-size="6.9" >right</text>
<text x="31.50" y="278.50" text-anchor="end" font-size="6.9" >100</text>
<text x="31.50" y="320.70" text-anchor="end" font-size="6.9" >0</text>
<text x="31.50" y="362.90" text-anchor="end" font-size="6.9" >−100</text>
<path d="M47.90 261.50H60.50" stroke="#666" stroke-width="1.1"/>
<g fill="#262626"><circle cx="50.85" cy="258.50" r="1.33"/><circle cx="54.20" cy="258.50" r="1.33"/><circle cx="57.55" cy="258.50" r="1.33"/></g>
<path d="M139.95 316.80V313.20M139.95 320.50V325.50" stroke="#3F3F3F" stroke-width="1.4" fill="none"/>
<path d="M136.27 313.20H143.63M136.27 325.50H143.63" stroke="#3F3F3F" stroke-width="1.7" fill="none"/>
<rect x="133.75" y="316.80" width="12.40" height="3.70" fill="#2E77AE" stroke="#3F3F3F" stroke-width="1.35"/>
<path d="M133.75 318.00H146.15" stroke="#3F3F3F" stroke-width="1.3"/>
<path d="M139.95 325.70L141.70 327.90L139.95 330.10L138.20 327.90ZM139.95 327.21L141.70 329.41L139.95 331.61L138.20 329.41ZM139.95 328.73L141.70 330.93L139.95 333.13L138.20 330.93ZM139.95 330.24L141.70 332.44L139.95 334.64L138.20 332.44ZM139.95 331.76L141.70 333.96L139.95 336.16L138.20 333.96ZM139.95 333.27L141.70 335.47L139.95 337.67L138.20 335.47ZM139.95 334.79L141.70 336.99L139.95 339.19L138.20 336.99ZM139.95 336.30L141.70 338.50L139.95 340.70L138.20 338.50Z" fill="#3F3F3F"/>
<path d="M152.65 318.30V314.20M152.65 327.30V341.50" stroke="#3F3F3F" stroke-width="1.4" fill="none"/>
<path d="M148.97 314.20H156.33M148.97 341.50H156.33" stroke="#3F3F3F" stroke-width="1.7" fill="none"/>
<rect x="146.45" y="318.30" width="12.40" height="9.00" fill="#E4832B" stroke="#3F3F3F" stroke-width="1.35"/>
<path d="M146.45 318.50H158.85" stroke="#3F3F3F" stroke-width="1.3"/>
<path d="M152.65 341.70L154.40 343.90L152.65 346.10L150.90 343.90ZM152.65 345.40L154.40 347.60L152.65 349.80L150.90 347.60ZM152.65 352.10L154.40 354.30L152.65 356.50L150.90 354.30Z" fill="#3F3F3F"/>
<path d="M175.65 318.30V309.50M175.65 328.20V336.50" stroke="#3F3F3F" stroke-width="1.4" fill="none"/>
<path d="M171.97 309.50H179.33M171.97 336.50H179.33" stroke="#3F3F3F" stroke-width="1.7" fill="none"/>
<rect x="169.45" y="318.30" width="12.40" height="9.90" fill="#2E77AE" stroke="#3F3F3F" stroke-width="1.35"/>
<path d="M169.45 321.20H181.85" stroke="#3F3F3F" stroke-width="1.3"/>
<path d="M188.35 318.60V313.20M188.35 321.90V326.30" stroke="#3F3F3F" stroke-width="1.4" fill="none"/>
<path d="M184.67 313.20H192.03M184.67 326.30H192.03" stroke="#3F3F3F" stroke-width="1.7" fill="none"/>
<rect x="182.15" y="318.60" width="12.40" height="3.30" fill="#E4832B" stroke="#3F3F3F" stroke-width="1.35"/>
<path d="M182.15 318.70H194.55" stroke="#3F3F3F" stroke-width="1.3"/>
<path d="M188.35 327.90L190.10 330.10L188.35 332.30L186.60 330.10ZM188.35 329.23L190.10 331.43L188.35 333.63L186.60 331.43ZM188.35 330.57L190.10 332.77L188.35 334.97L186.60 332.77ZM188.35 331.90L190.10 334.10L188.35 336.30L186.60 334.10ZM188.35 336.70L190.10 338.90L188.35 341.10L186.60 338.90ZM188.35 339.40L190.10 341.60L188.35 343.80L186.60 341.60ZM188.35 342.10L190.10 344.30L188.35 346.50L186.60 344.30Z" fill="#3F3F3F"/>
<path d="M128.60 317.70H200.40" stroke="#FF0000" stroke-width="1.75" stroke-dasharray="5.2 2.3"/>
<path d="M128.60 264.70V394.40H200.40" stroke="#353535" stroke-width="1.25" fill="none"/>
<path d="M126.00 275.50H128.60M126.00 317.70H128.60M126.00 359.90H128.60M146.30 394.40V397.20M182.00 394.40V397.20" stroke="#353535" stroke-width="1.0" fill="none"/>
<text x="146.70" y="407.20" text-anchor="middle" font-size="6.9" >left</text>
<text x="181.90" y="407.20" text-anchor="middle" font-size="6.9" >right</text>
<path d="M175.70 261.50H188.30" stroke="#666" stroke-width="1.1"/>
<g fill="#262626"><circle cx="180.32" cy="258.50" r="1.33"/><circle cx="183.68" cy="258.50" r="1.33"/></g>
<path d="M230.40 306.60V285.80M230.40 321.00V342.80" stroke="#3F3F3F" stroke-width="1.4" fill="none"/>
<path d="M226.80 285.80H234.00M226.80 342.80H234.00" stroke="#3F3F3F" stroke-width="1.7" fill="none"/>
<rect x="224.35" y="306.60" width="12.10" height="14.40" fill="#2E77AE" stroke="#3F3F3F" stroke-width="1.35"/>
<path d="M224.35 313.70H236.45" stroke="#3F3F3F" stroke-width="1.3"/>
<path d="M230.40 342.70L232.15 344.90L230.40 347.10L228.65 344.90ZM230.40 344.25L232.15 346.45L230.40 348.65L228.65 346.45ZM230.40 345.80L232.15 348.00L230.40 350.20L228.65 348.00ZM230.40 347.35L232.15 349.55L230.40 351.75L228.65 349.55ZM230.40 348.90L232.15 351.10L230.40 353.30L228.65 351.10ZM230.40 354.60L232.15 356.80L230.40 359.00L228.65 356.80ZM230.40 357.97L232.15 360.17L230.40 362.37L228.65 360.17ZM230.40 361.35L232.15 363.55L230.40 365.75L228.65 363.55ZM230.40 364.73L232.15 366.93L230.40 369.12L228.65 366.93ZM230.40 368.10L232.15 370.30L230.40 372.50L228.65 370.30ZM230.40 374.70L232.15 376.90L230.40 379.10L228.65 376.90Z" fill="#3F3F3F"/>
<path d="M242.80 308.70V285.10M242.80 324.80V349.20" stroke="#3F3F3F" stroke-width="1.4" fill="none"/>
<path d="M239.20 285.10H246.40M239.20 349.20H246.40" stroke="#3F3F3F" stroke-width="1.7" fill="none"/>
<rect x="236.75" y="308.70" width="12.10" height="16.10" fill="#E4832B" stroke="#3F3F3F" stroke-width="1.35"/>
<path d="M236.75 318.50H248.85" stroke="#3F3F3F" stroke-width="1.3"/>
<path d="M242.80 349.70L244.55 351.90L242.80 354.10L241.05 351.90ZM242.80 351.29L244.55 353.49L242.80 355.69L241.05 353.49ZM242.80 352.88L244.55 355.07L242.80 357.27L241.05 355.07ZM242.80 354.46L244.55 356.66L242.80 358.86L241.05 356.66ZM242.80 356.05L244.55 358.25L242.80 360.45L241.05 358.25ZM242.80 357.64L244.55 359.84L242.80 362.04L241.05 359.84ZM242.80 359.23L244.55 361.43L242.80 363.62L241.05 361.43ZM242.80 360.81L244.55 363.01L242.80 365.21L241.05 363.01ZM242.80 362.40L244.55 364.60L242.80 366.80L241.05 364.60ZM242.80 367.30L244.55 369.50L242.80 371.70L241.05 369.50ZM242.80 370.25L244.55 372.45L242.80 374.65L241.05 372.45ZM242.80 373.20L244.55 375.40L242.80 377.60L241.05 375.40Z" fill="#3F3F3F"/>
<path d="M265.30 307.30V286.50M265.30 322.60V344.30" stroke="#3F3F3F" stroke-width="1.4" fill="none"/>
<path d="M261.70 286.50H268.90M261.70 344.30H268.90" stroke="#3F3F3F" stroke-width="1.7" fill="none"/>
<rect x="259.25" y="307.30" width="12.10" height="15.30" fill="#2E77AE" stroke="#3F3F3F" stroke-width="1.35"/>
<path d="M259.25 314.50H271.35" stroke="#3F3F3F" stroke-width="1.3"/>
<path d="M265.30 344.20L267.05 346.40L265.30 348.60L263.55 346.40ZM265.30 345.20L267.05 347.40L265.30 349.60L263.55 347.40ZM265.30 350.50L267.05 352.70L265.30 354.90L263.55 352.70ZM265.30 359.70L267.05 361.90L265.30 364.10L263.55 361.90ZM265.30 362.02L267.05 364.22L265.30 366.42L263.55 364.22ZM265.30 364.34L267.05 366.54L265.30 368.74L263.55 366.54ZM265.30 366.66L267.05 368.86L265.30 371.06L263.55 368.86ZM265.30 368.98L267.05 371.18L265.30 373.38L263.55 371.18ZM265.30 371.30L267.05 373.50L265.30 375.70L263.55 373.50Z" fill="#3F3F3F"/>
<path d="M277.70 307.30V286.50M277.70 324.80V349.20" stroke="#3F3F3F" stroke-width="1.4" fill="none"/>
<path d="M274.10 286.50H281.30M274.10 349.20H281.30" stroke="#3F3F3F" stroke-width="1.7" fill="none"/>
<rect x="271.65" y="307.30" width="12.10" height="17.50" fill="#E4832B" stroke="#3F3F3F" stroke-width="1.35"/>
<path d="M271.65 318.50H283.75" stroke="#3F3F3F" stroke-width="1.3"/>
<path d="M277.70 349.70L279.45 351.90L277.70 354.10L275.95 351.90ZM277.70 351.14L279.45 353.34L277.70 355.54L275.95 353.34ZM277.70 352.57L279.45 354.77L277.70 356.97L275.95 354.77ZM277.70 354.01L279.45 356.21L277.70 358.41L275.95 356.21ZM277.70 355.45L279.45 357.65L277.70 359.85L275.95 357.65ZM277.70 356.88L279.45 359.08L277.70 361.28L275.95 359.08ZM277.70 358.32L279.45 360.52L277.70 362.72L275.95 360.52ZM277.70 359.75L279.45 361.95L277.70 364.15L275.95 361.95ZM277.70 361.19L279.45 363.39L277.70 365.59L275.95 363.39ZM277.70 362.63L279.45 364.83L277.70 367.03L275.95 364.83ZM277.70 364.06L279.45 366.26L277.70 368.46L275.95 366.26ZM277.70 365.50L279.45 367.70L277.70 369.90L275.95 367.70ZM277.70 370.90L279.45 373.10L277.70 375.30L275.95 373.10ZM277.70 376.00L279.45 378.20L277.70 380.40L275.95 378.20Z" fill="#3F3F3F"/>
<path d="M219.30 317.70H289.00" stroke="#FF0000" stroke-width="1.75" stroke-dasharray="5.2 2.3"/>
<path d="M219.30 264.70V394.40H289.00" stroke="#353535" stroke-width="1.25" fill="none"/>
<path d="M216.70 275.50H219.30M216.70 317.70H219.30M216.70 359.90H219.30M236.60 394.40V397.20M271.50 394.40V397.20" stroke="#353535" stroke-width="1.0" fill="none"/>
<text x="236.90" y="407.20" text-anchor="middle" font-size="6.9" >left</text>
<text x="271.50" y="407.20" text-anchor="middle" font-size="6.9" >right</text>
<path d="M230.30 261.50H242.90" stroke="#666" stroke-width="1.1"/>
<g fill="#262626"><circle cx="233.25" cy="258.50" r="1.33"/><circle cx="236.60" cy="258.50" r="1.33"/><circle cx="239.95" cy="258.50" r="1.33"/></g>
<path d="M265.20 261.50H277.80" stroke="#666" stroke-width="1.1"/>
<g fill="#262626"><circle cx="268.15" cy="258.50" r="1.33"/><circle cx="271.50" cy="258.50" r="1.33"/><circle cx="274.85" cy="258.50" r="1.33"/></g>
<path d="M314.20 316.40V312.70M314.20 320.40V326.30" stroke="#3F3F3F" stroke-width="1.4" fill="none"/>
<path d="M310.60 312.70H317.80M310.60 326.30H317.80" stroke="#3F3F3F" stroke-width="1.7" fill="none"/>
<rect x="308.15" y="316.40" width="12.10" height="4.00" fill="#2E77AE" stroke="#3F3F3F" stroke-width="1.35"/>
<path d="M308.15 318.00H320.25" stroke="#3F3F3F" stroke-width="1.3"/>
<path d="M314.20 294.20L315.95 296.40L314.20 298.60L312.45 296.40ZM314.20 299.20L315.95 301.40L314.20 303.60L312.45 301.40ZM314.20 300.60L315.95 302.80L314.20 305.00L312.45 302.80ZM314.20 302.00L315.95 304.20L314.20 306.40L312.45 304.20ZM314.20 303.40L315.95 305.60L314.20 307.80L312.45 305.60ZM314.20 304.80L315.95 307.00L314.20 309.20L312.45 307.00ZM314.20 306.20L315.95 308.40L314.20 310.60L312.45 308.40ZM314.20 326.70L315.95 328.90L314.20 331.10L312.45 328.90ZM314.20 328.22L315.95 330.42L314.20 332.62L312.45 330.42ZM314.20 329.74L315.95 331.94L314.20 334.14L312.45 331.94ZM314.20 331.26L315.95 333.46L314.20 335.66L312.45 333.46ZM314.20 332.79L315.95 334.99L314.20 337.19L312.45 334.99ZM314.20 334.31L315.95 336.51L314.20 338.71L312.45 336.51ZM314.20 335.83L315.95 338.03L314.20 340.23L312.45 338.03ZM314.20 337.35L315.95 339.55L314.20 341.75L312.45 339.55ZM314.20 338.87L315.95 341.07L314.20 343.27L312.45 341.07ZM314.20 340.39L315.95 342.59L314.20 344.79L312.45 342.59ZM314.20 341.91L315.95 344.11L314.20 346.31L312.45 344.11ZM314.20 343.44L315.95 345.64L314.20 347.84L312.45 345.64ZM314.20 344.96L315.95 347.16L314.20 349.36L312.45 347.16ZM314.20 346.48L315.95 348.68L314.20 350.88L312.45 348.68ZM314.20 348.00L315.95 350.20L314.20 352.40L312.45 350.20Z" fill="#3F3F3F"/>
<path d="M326.60 317.80V304.00M326.60 334.40V357.60" stroke="#3F3F3F" stroke-width="1.4" fill="none"/>
<path d="M323.00 304.00H330.20M323.00 357.60H330.20" stroke="#3F3F3F" stroke-width="1.7" fill="none"/>
<rect x="320.55" y="317.80" width="12.10" height="16.60" fill="#E4832B" stroke="#3F3F3F" stroke-width="1.35"/>
<path d="M320.55 317.80H332.65" stroke="#3F3F3F" stroke-width="1.3"/>
<path d="M326.60 363.40L328.35 365.60L326.60 367.80L324.85 365.60Z" fill="#3F3F3F"/>
<path d="M348.80 318.50V302.10M348.80 328.30V339.80" stroke="#3F3F3F" stroke-width="1.4" fill="none"/>
<path d="M345.20 302.10H352.40M345.20 339.80H352.40" stroke="#3F3F3F" stroke-width="1.7" fill="none"/>
<rect x="342.75" y="318.50" width="12.10" height="9.80" fill="#2E77AE" stroke="#3F3F3F" stroke-width="1.35"/>
<path d="M342.75 321.50H354.85" stroke="#3F3F3F" stroke-width="1.3"/>
<path d="M348.80 286.30L350.55 288.50L348.80 290.70L347.05 288.50ZM348.80 295.20L350.55 297.40L348.80 299.60L347.05 297.40ZM348.80 297.40L350.55 299.60L348.80 301.80L347.05 299.60ZM348.80 345.90L350.55 348.10L348.80 350.30L347.05 348.10ZM348.80 347.52L350.55 349.72L348.80 351.92L347.05 349.72ZM348.80 349.15L350.55 351.35L348.80 353.55L347.05 351.35ZM348.80 350.78L350.55 352.98L348.80 355.18L347.05 352.98ZM348.80 352.40L350.55 354.60L348.80 356.80L347.05 354.60Z" fill="#3F3F3F"/>
<path d="M361.20 318.10V312.70M361.20 321.90V326.30" stroke="#3F3F3F" stroke-width="1.4" fill="none"/>
<path d="M357.60 312.70H364.80M357.60 326.30H364.80" stroke="#3F3F3F" stroke-width="1.7" fill="none"/>
<rect x="355.15" y="318.10" width="12.10" height="3.80" fill="#E4832B" stroke="#3F3F3F" stroke-width="1.35"/>
<path d="M355.15 319.60H367.25" stroke="#3F3F3F" stroke-width="1.3"/>
<path d="M361.20 297.80L362.95 300.00L361.20 302.20L359.45 300.00ZM361.20 299.33L362.95 301.53L361.20 303.73L359.45 301.53ZM361.20 300.87L362.95 303.07L361.20 305.27L359.45 303.07ZM361.20 302.40L362.95 304.60L361.20 306.80L359.45 304.60ZM361.20 306.70L362.95 308.90L361.20 311.10L359.45 308.90ZM361.20 307.40L362.95 309.60L361.20 311.80L359.45 309.60ZM361.20 326.70L362.95 328.90L361.20 331.10L359.45 328.90ZM361.20 328.24L362.95 330.44L361.20 332.63L359.45 330.44ZM361.20 329.77L362.95 331.97L361.20 334.17L359.45 331.97ZM361.20 331.31L362.95 333.50L361.20 335.70L359.45 333.50ZM361.20 332.84L362.95 335.04L361.20 337.24L359.45 335.04ZM361.20 334.38L362.95 336.57L361.20 338.77L359.45 336.57ZM361.20 335.91L362.95 338.11L361.20 340.31L359.45 338.11ZM361.20 337.44L362.95 339.64L361.20 341.84L359.45 339.64ZM361.20 338.98L362.95 341.18L361.20 343.38L359.45 341.18ZM361.20 340.51L362.95 342.71L361.20 344.91L359.45 342.71ZM361.20 342.05L362.95 344.25L361.20 346.45L359.45 344.25ZM361.20 343.59L362.95 345.79L361.20 347.99L359.45 345.79ZM361.20 345.12L362.95 347.32L361.20 349.52L359.45 347.32ZM361.20 346.66L362.95 348.86L361.20 351.06L359.45 348.86ZM361.20 348.19L362.95 350.39L361.20 352.59L359.45 350.39ZM361.20 349.73L362.95 351.93L361.20 354.12L359.45 351.93ZM361.20 351.26L362.95 353.46L361.20 355.66L359.45 353.46ZM361.20 352.80L362.95 355.00L361.20 357.19L359.45 355.00ZM361.20 354.33L362.95 356.53L361.20 358.73L359.45 356.53ZM361.20 355.87L362.95 358.06L361.20 360.26L359.45 358.06ZM361.20 357.40L362.95 359.60L361.20 361.80L359.45 359.60Z" fill="#3F3F3F"/>
<path d="M302.90 317.70H372.60" stroke="#FF0000" stroke-width="1.75" stroke-dasharray="5.2 2.3"/>
<path d="M302.90 264.70V394.40H372.60" stroke="#353535" stroke-width="1.25" fill="none"/>
<path d="M300.30 275.50H302.90M300.30 317.70H302.90M300.30 359.90H302.90M320.40 394.40V397.20M355.00 394.40V397.20" stroke="#353535" stroke-width="1.0" fill="none"/>
<text x="320.80" y="407.20" text-anchor="middle" font-size="6.9" >left</text>
<text x="355.20" y="407.20" text-anchor="middle" font-size="6.9" >right</text>
<path d="M314.10 261.50H326.70" stroke="#666" stroke-width="1.1"/>
<g fill="#262626"><circle cx="320.40" cy="258.50" r="1.33"/></g>
<path d="M403.65 295.20V265.50M403.65 319.80V354.70" stroke="#3F3F3F" stroke-width="1.4" fill="none"/>
<path d="M400.08 265.50H407.22M400.08 354.70H407.22" stroke="#3F3F3F" stroke-width="1.7" fill="none"/>
<rect x="397.65" y="295.20" width="12.00" height="24.60" fill="#2E77AE" stroke="#3F3F3F" stroke-width="1.35"/>
<path d="M397.65 305.80H409.65" stroke="#3F3F3F" stroke-width="1.3"/>
<path d="M403.65 357.00L405.40 359.20L403.65 361.40L401.90 359.20ZM403.65 358.50L405.40 360.70L403.65 362.90L401.90 360.70ZM403.65 360.00L405.40 362.20L403.65 364.40L401.90 362.20ZM403.65 361.50L405.40 363.70L403.65 365.90L401.90 363.70ZM403.65 366.50L405.40 368.70L403.65 370.90L401.90 368.70ZM403.65 368.50L405.40 370.70L403.65 372.90L401.90 370.70ZM403.65 378.60L405.40 380.80L403.65 383.00L401.90 380.80ZM403.65 381.20L405.40 383.40L403.65 385.60L401.90 383.40ZM403.65 383.80L405.40 386.00L403.65 388.20L401.90 386.00ZM403.65 391.70L405.40 393.90L403.65 396.10L401.90 393.90Z" fill="#3F3F3F"/>
<path d="M415.95 299.00V265.50M415.95 325.90V367.10" stroke="#3F3F3F" stroke-width="1.4" fill="none"/>
<path d="M412.38 265.50H419.52M412.38 367.10H419.52" stroke="#3F3F3F" stroke-width="1.7" fill="none"/>
<rect x="409.95" y="299.00" width="12.00" height="26.90" fill="#E4832B" stroke="#3F3F3F" stroke-width="1.35"/>
<path d="M409.95 318.50H421.95" stroke="#3F3F3F" stroke-width="1.3"/>
<path d="M415.95 368.40L417.70 370.60L415.95 372.80L414.20 370.60ZM415.95 368.50L417.70 370.70L415.95 372.90L414.20 370.70ZM415.95 377.30L417.70 379.50L415.95 381.70L414.20 379.50ZM415.95 379.55L417.70 381.75L415.95 383.95L414.20 381.75ZM415.95 381.80L417.70 384.00L415.95 386.20L414.20 384.00ZM415.95 384.05L417.70 386.25L415.95 388.45L414.20 386.25ZM415.95 386.30L417.70 388.50L415.95 390.70L414.20 388.50ZM415.95 388.55L417.70 390.75L415.95 392.95L414.20 390.75ZM415.95 390.80L417.70 393.00L415.95 395.20L414.20 393.00Z" fill="#3F3F3F"/>
<path d="M438.55 295.60V272.40M438.55 320.00V357.00" stroke="#3F3F3F" stroke-width="1.4" fill="none"/>
<path d="M434.98 272.40H442.12M434.98 357.00H442.12" stroke="#3F3F3F" stroke-width="1.7" fill="none"/>
<rect x="432.55" y="295.60" width="12.00" height="24.40" fill="#2E77AE" stroke="#3F3F3F" stroke-width="1.35"/>
<path d="M432.55 304.40H444.55" stroke="#3F3F3F" stroke-width="1.3"/>
<path d="M438.55 357.20L440.30 359.40L438.55 361.60L436.80 359.40ZM438.55 358.77L440.30 360.97L438.55 363.17L436.80 360.97ZM438.55 360.35L440.30 362.55L438.55 364.75L436.80 362.55ZM438.55 361.93L440.30 364.12L438.55 366.32L436.80 364.12ZM438.55 363.50L440.30 365.70L438.55 367.90L436.80 365.70ZM438.55 365.07L440.30 367.27L438.55 369.47L436.80 367.27ZM438.55 366.65L440.30 368.85L438.55 371.05L436.80 368.85ZM438.55 368.23L440.30 370.43L438.55 372.62L436.80 370.43ZM438.55 369.80L440.30 372.00L438.55 374.20L436.80 372.00ZM438.55 373.90L440.30 376.10L438.55 378.30L436.80 376.10ZM438.55 380.30L440.30 382.50L438.55 384.70L436.80 382.50Z" fill="#3F3F3F"/>
<path d="M450.85 297.50V276.70M450.85 325.90V368.00" stroke="#3F3F3F" stroke-width="1.4" fill="none"/>
<path d="M447.28 276.70H454.42M447.28 368.00H454.42" stroke="#3F3F3F" stroke-width="1.7" fill="none"/>
<rect x="444.85" y="297.50" width="12.00" height="28.40" fill="#E4832B" stroke="#3F3F3F" stroke-width="1.35"/>
<path d="M444.85 317.80H456.85" stroke="#3F3F3F" stroke-width="1.3"/>
<path d="M450.85 368.20L452.60 370.40L450.85 372.60L449.10 370.40ZM450.85 369.72L452.60 371.92L450.85 374.12L449.10 371.92ZM450.85 371.25L452.60 373.45L450.85 375.65L449.10 373.45ZM450.85 372.78L452.60 374.98L450.85 377.18L449.10 374.98ZM450.85 374.30L452.60 376.50L450.85 378.70L449.10 376.50ZM450.85 380.30L452.60 382.50L450.85 384.70L449.10 382.50ZM450.85 385.70L452.60 387.90L450.85 390.10L449.10 387.90Z" fill="#3F3F3F"/>
<path d="M392.50 317.70H462.60" stroke="#FF0000" stroke-width="1.75" stroke-dasharray="5.2 2.3"/>
<path d="M392.50 264.70V394.40H462.60" stroke="#353535" stroke-width="1.25" fill="none"/>
<path d="M389.90 275.50H392.50M389.90 317.70H392.50M389.90 359.90H392.50M409.80 394.40V397.20M444.70 394.40V397.20" stroke="#353535" stroke-width="1.0" fill="none"/>
<text x="410.10" y="407.20" text-anchor="middle" font-size="6.9" >left</text>
<text x="444.80" y="407.20" text-anchor="middle" font-size="6.9" >right</text>
<path d="M403.50 261.50H416.10" stroke="#666" stroke-width="1.1"/>
<g fill="#262626"><circle cx="406.45" cy="258.50" r="1.33"/><circle cx="409.80" cy="258.50" r="1.33"/><circle cx="413.15" cy="258.50" r="1.33"/></g>
<path d="M438.40 261.50H451.00" stroke="#666" stroke-width="1.1"/>
<g fill="#262626"><circle cx="441.35" cy="258.50" r="1.33"/><circle cx="444.70" cy="258.50" r="1.33"/><circle cx="448.05" cy="258.50" r="1.33"/></g>
<path d="M487.15 315.70V307.00M487.15 322.50V331.30" stroke="#3F3F3F" stroke-width="1.4" fill="none"/>
<path d="M483.58 307.00H490.72M483.58 331.30H490.72" stroke="#3F3F3F" stroke-width="1.7" fill="none"/>
<rect x="481.15" y="315.70" width="12.00" height="6.80" fill="#2E77AE" stroke="#3F3F3F" stroke-width="1.35"/>
<path d="M481.15 320.40H493.15" stroke="#3F3F3F" stroke-width="1.3"/>
<path d="M487.15 284.90L488.90 287.10L487.15 289.30L485.40 287.10ZM487.15 286.09L488.90 288.29L487.15 290.49L485.40 288.29ZM487.15 287.29L488.90 289.49L487.15 291.69L485.40 289.49ZM487.15 288.48L488.90 290.68L487.15 292.88L485.40 290.68ZM487.15 289.67L488.90 291.87L487.15 294.07L485.40 291.87ZM487.15 290.87L488.90 293.07L487.15 295.27L485.40 293.07ZM487.15 292.06L488.90 294.26L487.15 296.46L485.40 294.26ZM487.15 293.25L488.90 295.45L487.15 297.65L485.40 295.45ZM487.15 294.45L488.90 296.65L487.15 298.85L485.40 296.65ZM487.15 295.64L488.90 297.84L487.15 300.04L485.40 297.84ZM487.15 296.83L488.90 299.03L487.15 301.23L485.40 299.03ZM487.15 298.03L488.90 300.23L487.15 302.43L485.40 300.23ZM487.15 299.22L488.90 301.42L487.15 303.62L485.40 301.42ZM487.15 300.41L488.90 302.61L487.15 304.81L485.40 302.61ZM487.15 301.61L488.90 303.81L487.15 306.01L485.40 303.81ZM487.15 302.80L488.90 305.00L487.15 307.20L485.40 305.00ZM487.15 332.00L488.90 334.20L487.15 336.40L485.40 334.20ZM487.15 333.74L488.90 335.94L487.15 338.14L485.40 335.94ZM487.15 335.47L488.90 337.67L487.15 339.87L485.40 337.67ZM487.15 337.21L488.90 339.41L487.15 341.61L485.40 339.41ZM487.15 338.94L488.90 341.14L487.15 343.34L485.40 341.14ZM487.15 340.68L488.90 342.88L487.15 345.08L485.40 342.88ZM487.15 342.41L488.90 344.61L487.15 346.81L485.40 344.61ZM487.15 344.15L488.90 346.35L487.15 348.55L485.40 346.35ZM487.15 345.89L488.90 348.09L487.15 350.29L485.40 348.09ZM487.15 347.62L488.90 349.82L487.15 352.02L485.40 349.82ZM487.15 349.36L488.90 351.56L487.15 353.76L485.40 351.56ZM487.15 351.09L488.90 353.29L487.15 355.49L485.40 353.29ZM487.15 352.83L488.90 355.03L487.15 357.23L485.40 355.03ZM487.15 354.56L488.90 356.76L487.15 358.96L485.40 356.76ZM487.15 356.30L488.90 358.50L487.15 360.70L485.40 358.50Z" fill="#3F3F3F"/>
<path d="M499.45 317.50V289.90M499.45 336.40V361.10" stroke="#3F3F3F" stroke-width="1.4" fill="none"/>
<path d="M495.88 289.90H503.02M495.88 361.10H503.02" stroke="#3F3F3F" stroke-width="1.7" fill="none"/>
<rect x="493.45" y="317.50" width="12.00" height="18.90" fill="#E4832B" stroke="#3F3F3F" stroke-width="1.35"/>
<path d="M493.45 324.00H505.45" stroke="#3F3F3F" stroke-width="1.3"/>
<path d="M499.45 284.60L501.20 286.80L499.45 289.00L497.70 286.80ZM499.45 368.00L501.20 370.20L499.45 372.40L497.70 370.20Z" fill="#3F3F3F"/>
<path d="M521.75 317.50V300.40M521.75 329.80V347.30" stroke="#3F3F3F" stroke-width="1.4" fill="none"/>
<path d="M518.18 300.40H525.32M518.18 347.30H525.32" stroke="#3F3F3F" stroke-width="1.7" fill="none"/>
<rect x="515.75" y="317.50" width="12.00" height="12.30" fill="#2E77AE" stroke="#3F3F3F" stroke-width="1.35"/>
<path d="M515.75 322.50H527.75" stroke="#3F3F3F" stroke-width="1.3"/>
<path d="M521.75 265.50L523.50 267.70L521.75 269.90L520.00 267.70ZM521.75 280.80L523.50 283.00L521.75 285.20L520.00 283.00ZM521.75 287.40L523.50 289.60L521.75 291.80L520.00 289.60ZM521.75 289.02L523.50 291.22L521.75 293.42L520.00 291.22ZM521.75 290.65L523.50 292.85L521.75 295.05L520.00 292.85ZM521.75 292.28L523.50 294.48L521.75 296.68L520.00 294.48ZM521.75 293.90L523.50 296.10L521.75 298.30L520.00 296.10ZM521.75 347.70L523.50 349.90L521.75 352.10L520.00 349.90ZM521.75 349.13L523.50 351.33L521.75 353.53L520.00 351.33ZM521.75 350.57L523.50 352.77L521.75 354.97L520.00 352.77ZM521.75 352.00L523.50 354.20L521.75 356.40L520.00 354.20ZM521.75 353.43L523.50 355.63L521.75 357.83L520.00 355.63ZM521.75 354.87L523.50 357.07L521.75 359.27L520.00 357.07ZM521.75 356.30L523.50 358.50L521.75 360.70L520.00 358.50ZM521.75 374.30L523.50 376.50L521.75 378.70L520.00 376.50Z" fill="#3F3F3F"/>
<path d="M534.05 318.20V300.40M534.05 330.80V350.20" stroke="#3F3F3F" stroke-width="1.4" fill="none"/>
<path d="M530.48 300.40H537.62M530.48 350.20H537.62" stroke="#3F3F3F" stroke-width="1.7" fill="none"/>
<rect x="528.05" y="318.20" width="12.00" height="12.60" fill="#E4832B" stroke="#3F3F3F" stroke-width="1.35"/>
<path d="M528.05 321.10H540.05" stroke="#3F3F3F" stroke-width="1.3"/>
<path d="M534.05 284.90L535.80 287.10L534.05 289.30L532.30 287.10ZM534.05 288.15L535.80 290.35L534.05 292.55L532.30 290.35ZM534.05 291.40L535.80 293.60L534.05 295.80L532.30 293.60ZM534.05 350.70L535.80 352.90L534.05 355.10L532.30 352.90ZM534.05 352.13L535.80 354.33L534.05 356.53L532.30 354.33ZM534.05 353.56L535.80 355.76L534.05 357.96L532.30 355.76ZM534.05 354.99L535.80 357.19L534.05 359.39L532.30 357.19ZM534.05 356.41L535.80 358.61L534.05 360.81L532.30 358.61ZM534.05 357.84L535.80 360.04L534.05 362.24L532.30 360.04ZM534.05 359.27L535.80 361.47L534.05 363.67L532.30 361.47ZM534.05 360.70L535.80 362.90L534.05 365.10L532.30 362.90ZM534.05 369.90L535.80 372.10L534.05 374.30L532.30 372.10ZM534.05 373.70L535.80 375.90L534.05 378.10L532.30 375.90Z" fill="#3F3F3F"/>
<path d="M475.60 317.70H545.40" stroke="#FF0000" stroke-width="1.75" stroke-dasharray="5.2 2.3"/>
<path d="M475.60 264.70V394.40H545.40" stroke="#353535" stroke-width="1.25" fill="none"/>
<path d="M473.00 275.50H475.60M473.00 317.70H475.60M473.00 359.90H475.60M493.30 394.40V397.20M527.90 394.40V397.20" stroke="#353535" stroke-width="1.0" fill="none"/>
<text x="493.10" y="407.20" text-anchor="middle" font-size="6.9" >left</text>
<text x="527.50" y="407.20" text-anchor="middle" font-size="6.9" >right</text>
<path d="M488.20 261.50H500.80" stroke="#666" stroke-width="1.1"/>
<g fill="#262626"><circle cx="491.15" cy="258.50" r="1.33"/><circle cx="494.50" cy="258.50" r="1.33"/><circle cx="497.85" cy="258.50" r="1.33"/></g>
<text x="83.20" y="240.00" text-anchor="middle" font-size="6.9" >Single hairpin</text>
<text x="83.20" y="248.40" text-anchor="middle" font-size="6.9" >(n=279)</text>
<text x="169.90" y="240.00" text-anchor="middle" font-size="6.9" >Branched structure</text>
<text x="169.90" y="248.40" text-anchor="middle" font-size="6.9" >(n=190)</text>
<text x="255.00" y="240.00" text-anchor="middle" font-size="6.9" >Single hairpin</text>
<text x="255.00" y="248.40" text-anchor="middle" font-size="6.9" >(n=709)</text>
<text x="341.20" y="240.00" text-anchor="middle" font-size="6.9" >Branched structure</text>
<text x="341.20" y="248.40" text-anchor="middle" font-size="6.9" >(n=190)</text>
<text x="424.20" y="240.00" text-anchor="middle" font-size="6.9" >Single hairpin</text>
<text x="424.20" y="248.40" text-anchor="middle" font-size="6.9" >(n=727)</text>
<text x="512.30" y="240.00" text-anchor="middle" font-size="6.9" >Branched structure</text>
<text x="512.30" y="248.40" text-anchor="middle" font-size="6.9" >(n=206)</text>
<text transform="translate(10.6 320.00) rotate(-90)" text-anchor="middle" font-size="6.9">Boundary difference</text>
<text x="29.80" y="26.80" text-anchor="start" font-size="8.7" style="stroke-width:0.3px">a)</text>
<text x="212.00" y="26.80" text-anchor="start" font-size="8.7" style="stroke-width:0.3px">b)</text>
<text x="385.80" y="26.80" text-anchor="start" font-size="8.7" style="stroke-width:0.3px">c)</text>
<text x="137.60" y="28.70" text-anchor="middle" font-size="6.9" >Window = 100</text>
<text x="301.50" y="28.70" text-anchor="middle" font-size="6.9" >Window = 150</text>
<text x="474.40" y="28.70" text-anchor="middle" font-size="6.9" >Window = 200</text>
<text x="139.50" y="39.10" text-anchor="middle" font-size="6.9" >Single sequence</text>
<text x="134.70" y="228.80" text-anchor="middle" font-size="6.9" >Multiple sequence alignment</text>
<text x="302.70" y="39.10" text-anchor="middle" font-size="6.9" >Single sequence</text>
<text x="297.80" y="228.80" text-anchor="middle" font-size="6.9" >Multiple sequence alignment</text>
<text x="473.00" y="39.10" text-anchor="middle" font-size="6.9" >Single sequence</text>
<text x="478.00" y="228.80" text-anchor="middle" font-size="6.9" >Multiple sequence alignment</text>
<rect x="234.1" y="5.2" width="10.7" height="3.4" fill="#2E77AE" stroke="#333" stroke-width="0.7"/>
<text x="249.60" y="8.70" text-anchor="start" font-size="6.9" >RNAbound</text>
<rect x="287.9" y="5.3" width="10.9" height="3.4" fill="#E4832B" stroke="#333" stroke-width="0.7"/>
<text x="303.60" y="8.70" text-anchor="start" font-size="6.9" >Dotu et al</text>
<text x="295.90" y="421.90" text-anchor="middle" font-size="6.9" >Boundary</text>
</svg></body></html>
